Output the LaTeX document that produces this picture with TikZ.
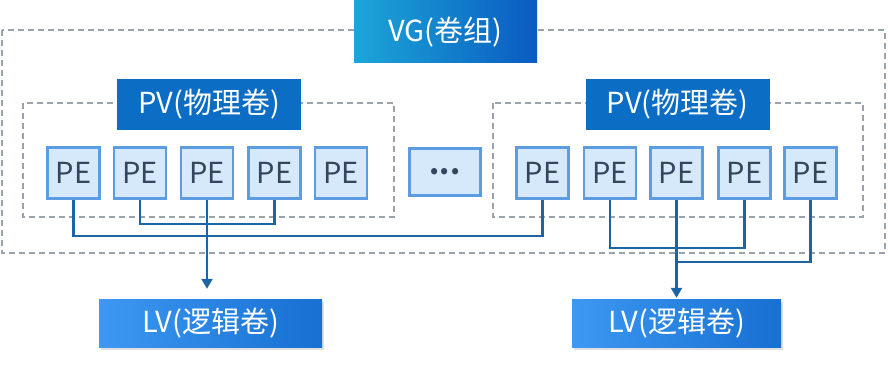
\documentclass[tikz,border=0pt]{standalone}
\usepackage{fontspec}
\setmainfont{Noto Sans CJK SC}
\usetikzlibrary{shadows,arrows.meta}
\definecolor{vgL}{HTML}{1CA6D8}
\definecolor{vgR}{HTML}{0A5BC0}
\definecolor{pvfill}{HTML}{0B6DC4}
\definecolor{lvL}{HTML}{3C98F2}
\definecolor{lvR}{HTML}{1770D2}
\definecolor{pefill}{HTML}{D6E9FB}
\definecolor{pedraw}{HTML}{5C9CE2}
\definecolor{petext}{HTML}{33465E}
\definecolor{conn}{HTML}{1D64A7}
\definecolor{dashgray}{HTML}{9AA2AC}
\begin{document}
\begin{tikzpicture}[x=1pt,y=-1pt,
  lbl/.style={font=\fontsize{29}{34}\selectfont},
  petile/.style={lbl,draw=pedraw,fill=pefill,line width=2.2pt,minimum width=52pt,minimum height=51pt,inner sep=0pt,text=petext},
  dashbox/.style={draw=dashgray,line width=1.5pt,dash pattern=on 6pt off 4pt},
  pvlabel/.style={lbl,fill=pvfill,text=white,minimum width=184pt,minimum height=51pt,inner sep=0pt},
  vglabel/.style={lbl,left color=vgL,right color=vgR,text=white,minimum width=183pt,minimum height=62pt,inner sep=0pt},
  lvlabel/.style={lbl,left color=lvL,right color=lvR,text=white,minimum height=48pt,inner sep=0pt,
    drop shadow={opacity=0.25,shadow xshift=2pt,shadow yshift=-3pt}},
  wire/.style={draw=conn,line width=2.2pt},
  arrowwire/.style={wire,-{Triangle[length=10pt,width=11pt]}}
]
\useasboundingbox (0,0) rectangle (888,369);
% outer VG dashed box
\draw[dashbox] (2,30) rectangle (885,253);
\node[vglabel] (vg) at (445.5,32) {VG(卷组)};
% PV dashed boxes
\draw[dashbox] (23,103) rectangle (394,217);
\draw[dashbox] (493,103) rectangle (863,217);
\node[pvlabel] (pv1) at (209,104.5) {PV(物理卷)};
\node[pvlabel] (pv2) at (677.5,104.5) {PV(物理卷)};
% PE tiles
\node[petile] (a1) at (73.5,173) {PE};
\node[petile] (a2) at (140,173) {PE};
\node[petile] (a3) at (207,173) {PE};
\node[petile] (a4) at (274.5,173) {PE};
\node[petile] (a5) at (341,173) {PE};
\node[petile,minimum width=71pt,minimum height=47pt] (dots) at (445,172) {\textbf{...}};
\node[petile] (b1) at (542.5,173) {PE};
\node[petile] (b2) at (610,173) {PE};
\node[petile] (b3) at (676.5,173) {PE};
\node[petile] (b4) at (744.5,173) {PE};
\node[petile] (b5) at (810.5,173) {PE};
% LV
\node[lvlabel,minimum width=223pt] (lv1) at (210.5,323) {LV(逻辑卷)};
\node[lvlabel,minimum width=209pt] (lv2) at (676.5,323) {LV(逻辑卷)};
% connectors
\coordinate (j1) at (676.5,262);
\draw[wire] (a1.south) -- ++(0,36) -| (b1.south);
\draw[wire] (a2.south) -- ++(0,24) -| (a4.south);
\draw[wire] (b2.south) -- ++(0,48) -| (b4.south);
\draw[wire] (b5.south) |- (j1);
\draw[arrowwire,shorten >=10pt] (a3.south) -- (a3.south |- lv1.north);
\draw[arrowwire,shorten >=1pt] (b3.south) -- (b3.south |- lv2.north);
\end{tikzpicture}
\end{document}
